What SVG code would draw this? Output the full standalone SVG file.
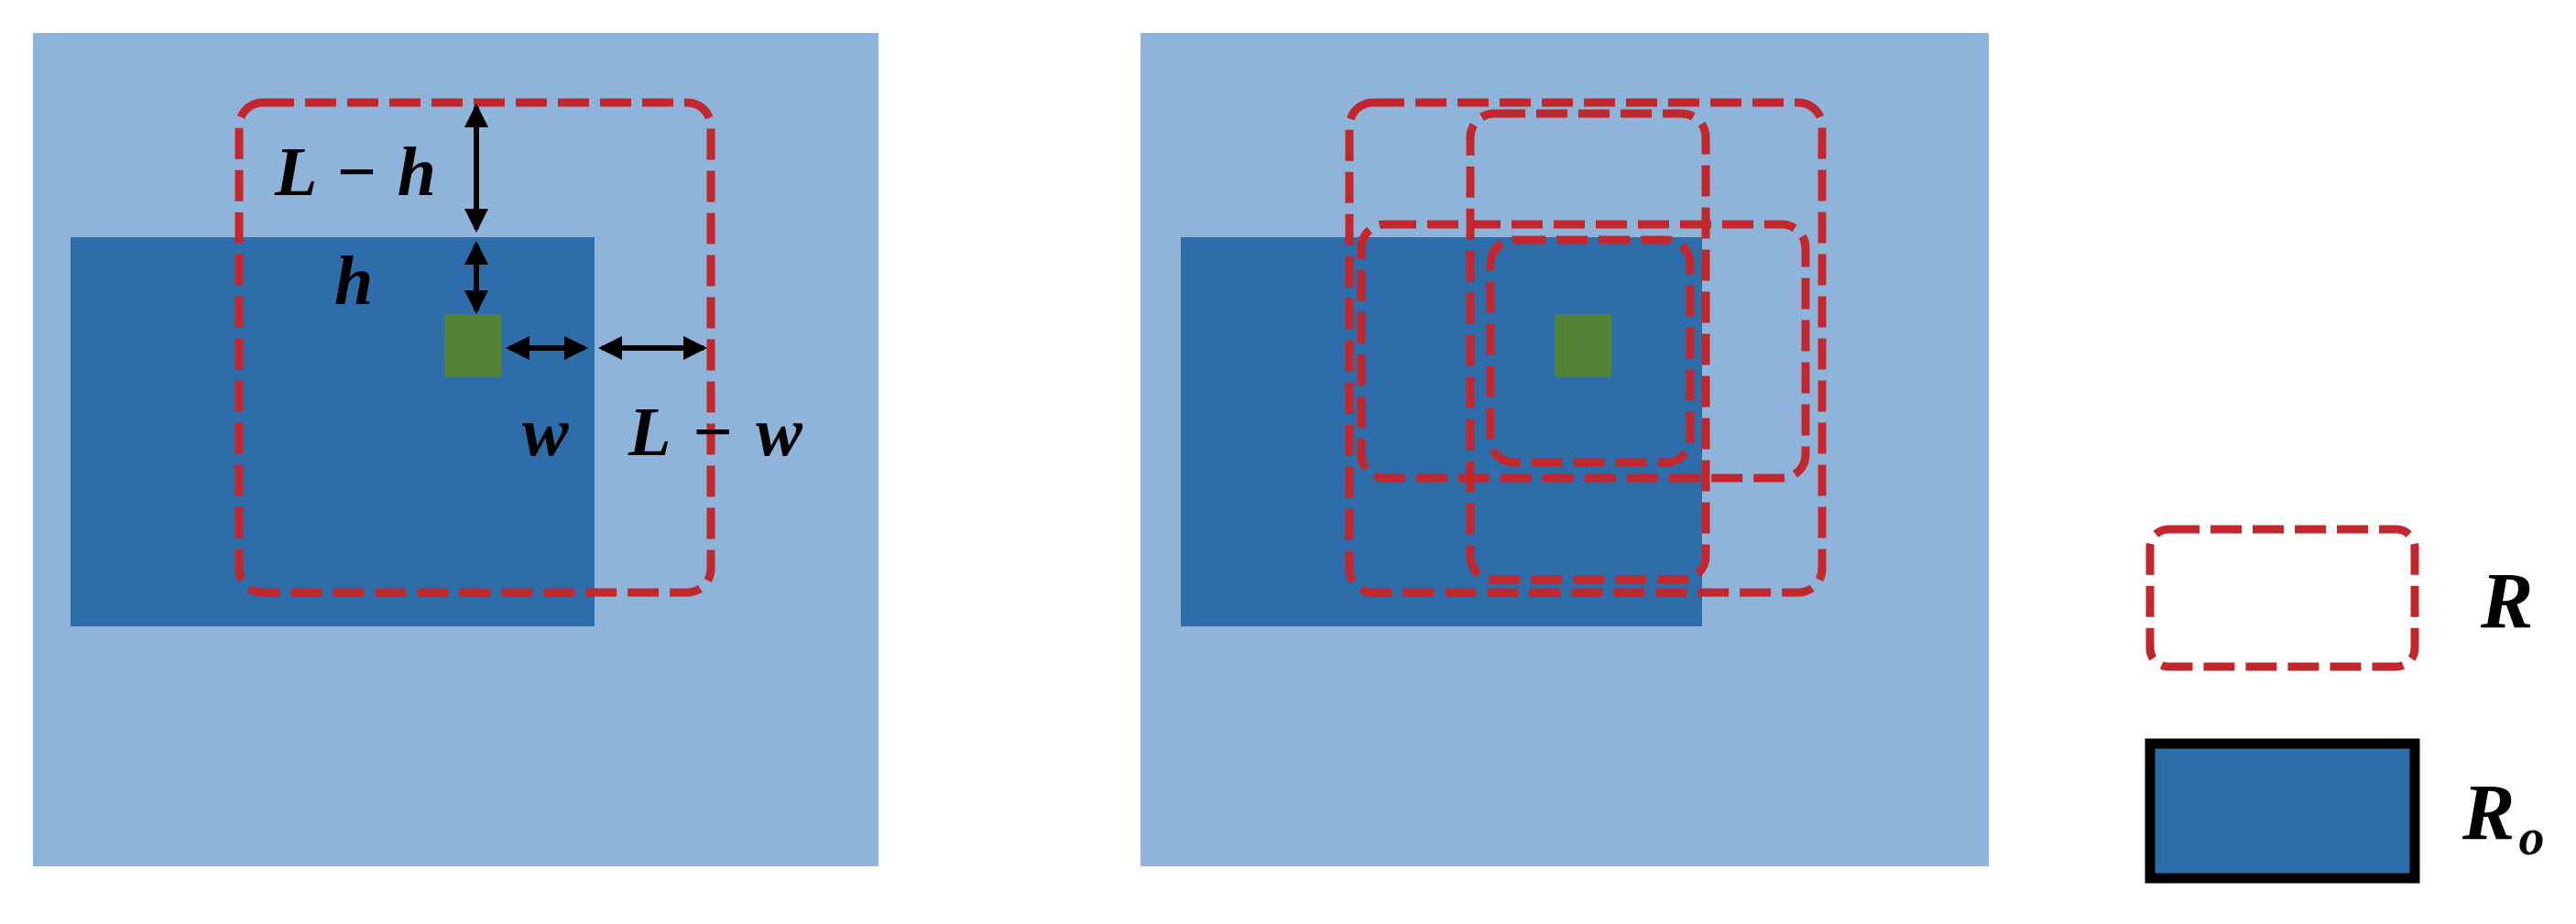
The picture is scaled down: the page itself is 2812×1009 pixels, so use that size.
<svg xmlns="http://www.w3.org/2000/svg" width="2812" height="1009" viewBox="0 0 2812 1009">
<style>
.bg{fill:#8fb4da}
.obj{fill:#2c6daa}
.px{fill:#548235}
.win{fill:none;stroke:#c1272d;stroke-width:9;stroke-dasharray:34 12}
.arr{stroke:#000;stroke-width:6;fill:none;marker-start:url(#ah);marker-end:url(#ah)}
.lbl{font-family:"Liberation Serif","DejaVu Serif",serif;font-weight:bold;font-style:italic;fill:#000}
</style>
<defs>
<marker id="ah" markerUnits="userSpaceOnUse" markerWidth="28" markerHeight="28" viewBox="0 0 28 28" refX="22" refY="14" orient="auto-start-reverse">
<path d="M0,1 L26,14 L0,27 Z" fill="#000"/>
</marker>
</defs>
<rect width="2812" height="1009" fill="#fff"/>

<g id="panel-left">
<rect class="bg" x="36" y="36" width="923" height="910"/>
<rect class="obj" x="77" y="259" width="572" height="425"/>
<rect class="px" x="485" y="343" width="62" height="69"/>
<rect class="win" x="261" y="112" width="515" height="535" rx="26"/>
</g>

<g id="panel-right">
<rect class="bg" x="1245" y="36" width="926" height="910"/>
<rect class="obj" x="1289" y="259" width="569" height="425"/>
<rect class="px" x="1697" y="343" width="62" height="69"/>
<rect class="win" x="1473" y="112" width="516" height="535" rx="26"/>
<rect class="win" x="1605" y="124" width="257" height="509" rx="26"/>
<rect class="win" x="1486" y="245" width="485" height="277" rx="26"/>
<rect class="win" x="1627" y="262" width="218" height="243" rx="26"/>
</g>

<g id="connectors">
<line class="arr" x1="520" y1="117" x2="520" y2="250"/>
<line class="arr" x1="520" y1="267" x2="520" y2="339"/>
<line class="arr" x1="556" y1="380" x2="638" y2="380"/>
<line class="arr" x1="657" y1="380" x2="768" y2="380"/>
</g>

<g id="labels">
<text class="lbl" x="300" y="213" font-size="76" textLength="176" lengthAdjust="spacing">L − h</text>
<text class="lbl" x="365" y="332" font-size="76">h</text>
<text class="lbl" x="570" y="497" font-size="76">w</text>
<text class="lbl" x="686" y="497" font-size="76" textLength="190" lengthAdjust="spacing">L − w</text>
</g>

<g id="legend-R">
<rect x="2347" y="578" width="289" height="150" rx="20" fill="#fff" stroke="#c1272d" stroke-width="9" stroke-dasharray="34 12"/>
<text class="lbl" x="2708" y="685" font-size="86">R</text>
</g>

<g id="legend-Ro">
<rect x="2347" y="812" width="289" height="147" fill="#2c6daa" stroke="#000" stroke-width="11"/>
<text class="lbl" x="2688" y="916" font-size="86">R<tspan font-size="56" dx="4" dy="17">o</tspan></text>
</g>
</svg>
